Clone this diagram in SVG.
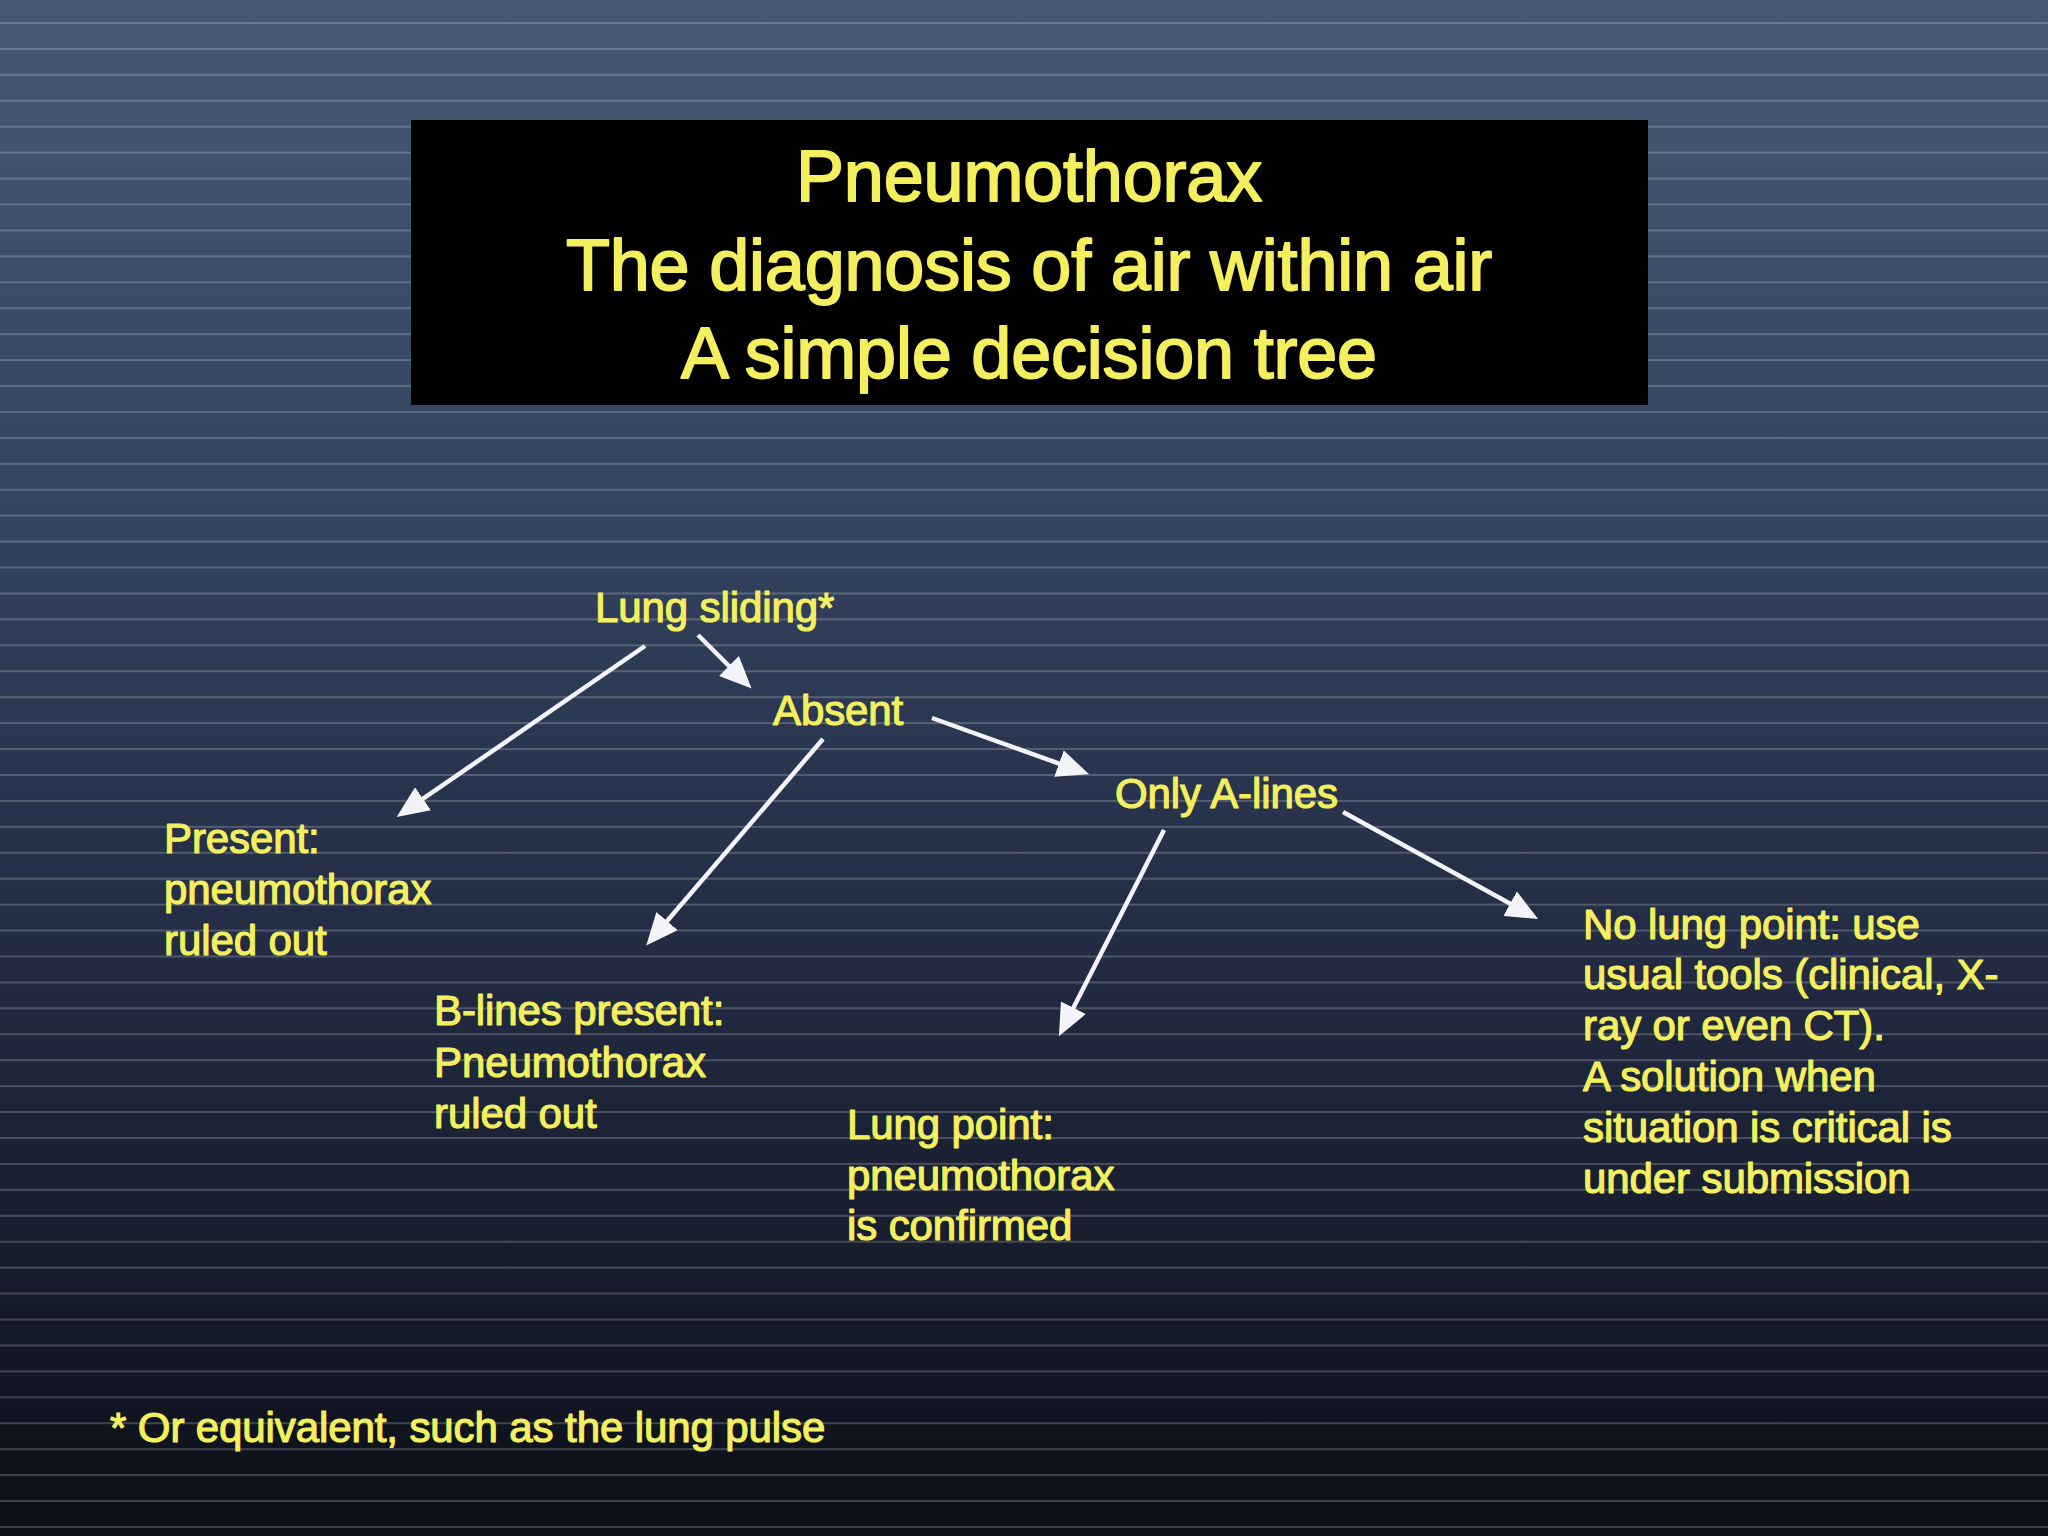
<svg xmlns="http://www.w3.org/2000/svg" width="2048" height="1536" viewBox="0 0 2048 1536">
  <defs>
    <linearGradient id="bg" x1="0" y1="0" x2="0" y2="1">
      <stop offset="0" stop-color="#475875"/>
      <stop offset="0.35" stop-color="#33425e"/>
      <stop offset="0.6" stop-color="#232d45"/>
      <stop offset="1" stop-color="#0c0f18"/>
    </linearGradient>
    <pattern id="stripes" patternUnits="userSpaceOnUse" x="0" y="22" width="2048" height="25.93">
      <rect x="0" y="0" width="2048" height="2" fill="#ffffff" fill-opacity="0.2"/>
    </pattern>
    <marker id="arrow" markerUnits="userSpaceOnUse" markerWidth="32" markerHeight="28" viewBox="0 0 32 28" refX="17" refY="14" orient="auto">
      <path d="M0,0 L32,14 L0,28 z" fill="#f2f4f8"/>
    </marker>
  </defs>
  <style>
    .t { font-family: "Liberation Sans", Arial, sans-serif; fill: #f4ef5e; stroke: #f4ef5e; stroke-linejoin: round; }
    .title { font-size: 72px; text-anchor: middle; stroke-width: 1.8; letter-spacing: -0.2px; }
    .lbl { font-size: 42px; stroke-width: 1.2; letter-spacing: -0.1px; }
    .conn line { stroke: #f2f4f8; stroke-width: 4.5; marker-end: url(#arrow); }
  </style>

  <rect x="0" y="0" width="2048" height="1536" fill="url(#bg)"/>
  <rect x="0" y="0" width="2048" height="1536" fill="url(#stripes)"/>

  <g id="title">
    <rect x="411" y="120" width="1237" height="285" fill="#000000"/>
    <text class="t title" x="1029" y="201">Pneumothorax</text>
    <text class="t title" x="1029" y="290">The diagnosis of air within air</text>
    <text class="t title" x="1029" y="378">A simple decision tree</text>
  </g>

  <g id="lung-sliding">
    <text class="t lbl" x="595" y="622">Lung sliding*</text>
  </g>
  <g id="absent">
    <text class="t lbl" x="773" y="725">Absent</text>
  </g>
  <g id="only-a-lines">
    <text class="t lbl" x="1115" y="808">Only A-lines</text>
  </g>
  <g id="present">
    <text class="t lbl" x="164" y="853">Present:</text>
    <text class="t lbl" x="164" y="904">pneumothorax</text>
    <text class="t lbl" x="164" y="955">ruled out</text>
  </g>
  <g id="b-lines">
    <text class="t lbl" x="434" y="1025">B-lines present:</text>
    <text class="t lbl" x="434" y="1077">Pneumothorax</text>
    <text class="t lbl" x="434" y="1128">ruled out</text>
  </g>
  <g id="lung-point">
    <text class="t lbl" x="847" y="1139">Lung point:</text>
    <text class="t lbl" x="847" y="1190">pneumothorax</text>
    <text class="t lbl" x="847" y="1240">is confirmed</text>
  </g>
  <g id="no-lung-point">
    <text class="t lbl" x="1583" y="939">No lung point: use</text>
    <text class="t lbl" x="1583" y="989">usual tools (clinical, X-</text>
    <text class="t lbl" x="1583" y="1040">ray or even CT).</text>
    <text class="t lbl" x="1583" y="1091">A solution when</text>
    <text class="t lbl" x="1583" y="1142">situation is critical is</text>
    <text class="t lbl" x="1583" y="1193">under submission</text>
  </g>
  <g id="footnote">
    <text class="t lbl" x="110" y="1442">* Or equivalent, such as the lung pulse</text>
  </g>

  <g id="connectors" class="conn">
    <line x1="645" y1="646" x2="409" y2="808.4"/>
    <line x1="698" y1="635" x2="741" y2="678"/>
    <line x1="823" y1="739" x2="656" y2="934"/>
    <line x1="932" y1="718" x2="1075" y2="769.3"/>
    <line x1="1164" y1="830" x2="1065.7" y2="1022.9"/>
    <line x1="1343" y1="812" x2="1525" y2="911.8"/>
  </g>
</svg>
